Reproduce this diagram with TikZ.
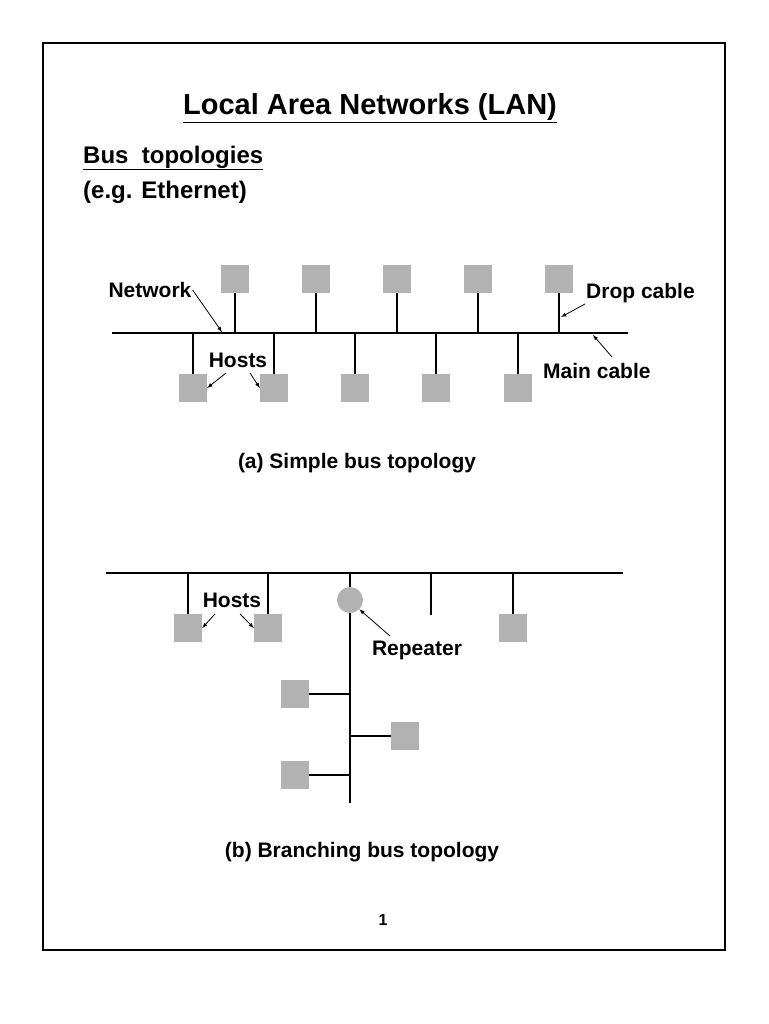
\documentclass[tikz,border=0pt]{standalone}
\usepackage{fontspec}
\setmainfont{Liberation Sans}
\begin{document}
\begin{tikzpicture}[x=1pt,y=-1pt,
  host/.style={fill=gray!90!black!55,draw=none,minimum size=28pt,inner sep=0pt},
  rep/.style={circle,fill=gray!90!black!55,minimum size=26pt,inner sep=0pt},
  lab/.style={font=\bfseries\fontsize{21}{24}\selectfont,inner sep=1pt},
  cab/.style={line width=1.4pt},
  arr/.style={-latex,line width=0.8pt}]
\useasboundingbox (0,0) rectangle (768,1024);
\draw[line width=2.5pt] (43,43) rectangle (725,950);
\node[font=\bfseries\fontsize{29}{32}\selectfont] (title) at (370,108) {\underline{Local Area Networks (LAN)}};
\node[anchor=west,font=\bfseries\fontsize{24}{28}\selectfont,inner sep=0pt] (bus) at (83,158) {\underline{Bus\ \ topologies}};
\node[anchor=west,font=\bfseries\fontsize{24}{28}\selectfont,inner sep=0pt] (eg) at (83,192) {(e.g. Ethernet)};
% simple bus
\coordinate (mL) at (112,333); \coordinate (mR) at (628,333);
\draw[cab] (mL) -- (mR);
\foreach \i/\x in {1/235,2/316,3/397,4/478,5/559}{
  \node[host] (t\i) at (\x,279) {};
  \coordinate (tc\i) at (\x,333);
  \draw[cab] (t\i.south) -- (tc\i);}
\foreach \i/\x in {1/193,2/274,3/355,4/436,5/518}{
  \node[host] (b\i) at (\x,388) {};
  \coordinate (bc\i) at (\x,333);
  \draw[cab] (b\i.north) -- (bc\i);}
\node[lab] (net) at (150,290) {Network};
\coordinate (netp) at (222,332);
\draw[arr] (net.east) -- (netp);
\node[lab,anchor=west] (drop) at (585,293) {Drop cable};
\coordinate (dropp) at (561,317);
\draw[arr] (drop.south west) -- (dropp);
\node[lab,anchor=west] (main) at (542,371) {Main cable};
\coordinate (mainp) at (593,335);
\draw[arr] (612,357) -- (mainp);
\node[lab] (hosts1) at (238,360) {Hosts};
\draw[arr] (226,373) -- (b1.east);
\draw[arr] (250,373) -- (b2.west);
\node[lab] (capa) at (357,463) {(a) Simple bus topology};
% branching bus
\coordinate (bL) at (106,573); \coordinate (bR) at (623,573);
\draw[cab] (bL) -- (bR);
\node[host] (h1) at (188,628) {};
\node[host] (h2) at (268,628) {};
\node[host] (h3) at (513,628) {};
\foreach \n in {h1,h2,h3}{\draw[cab] (\n.north) -- (\n.north |- bL);}
\coordinate (open) at (431,615);
\draw[cab] (open) -- (open |- bL);
\node[rep] (rep) at (350,600) {};
\draw[cab] (rep.north) -- (rep.north |- bL);
\coordinate (bend) at (350,803);
\draw[cab] (rep.south) -- (bend);
\node[host] (s1) at (295,694) {};
\node[host] (s2) at (405,736) {};
\node[host] (s3) at (295,775) {};
\draw[cab] (s1.east) -- (s1.east -| rep);
\draw[cab] (s2.west) -- (s2.west -| rep);
\draw[cab] (s3.east) -- (s3.east -| rep);
\node[lab] (hosts2) at (232,600) {Hosts};
\draw[arr] (215,614) -- (h1.east);
\draw[arr] (240,614) -- (h2.west);
\node[lab] (reptxt) at (417,650) {Repeater};
\draw[arr] (390,636) -- (rep.south east);
\node[lab] (capb) at (362,852) {(b) Branching bus topology};
\node[font=\bfseries\fontsize{16}{18}\selectfont] (pg) at (383,920) {1};
\end{tikzpicture}
\end{document}
